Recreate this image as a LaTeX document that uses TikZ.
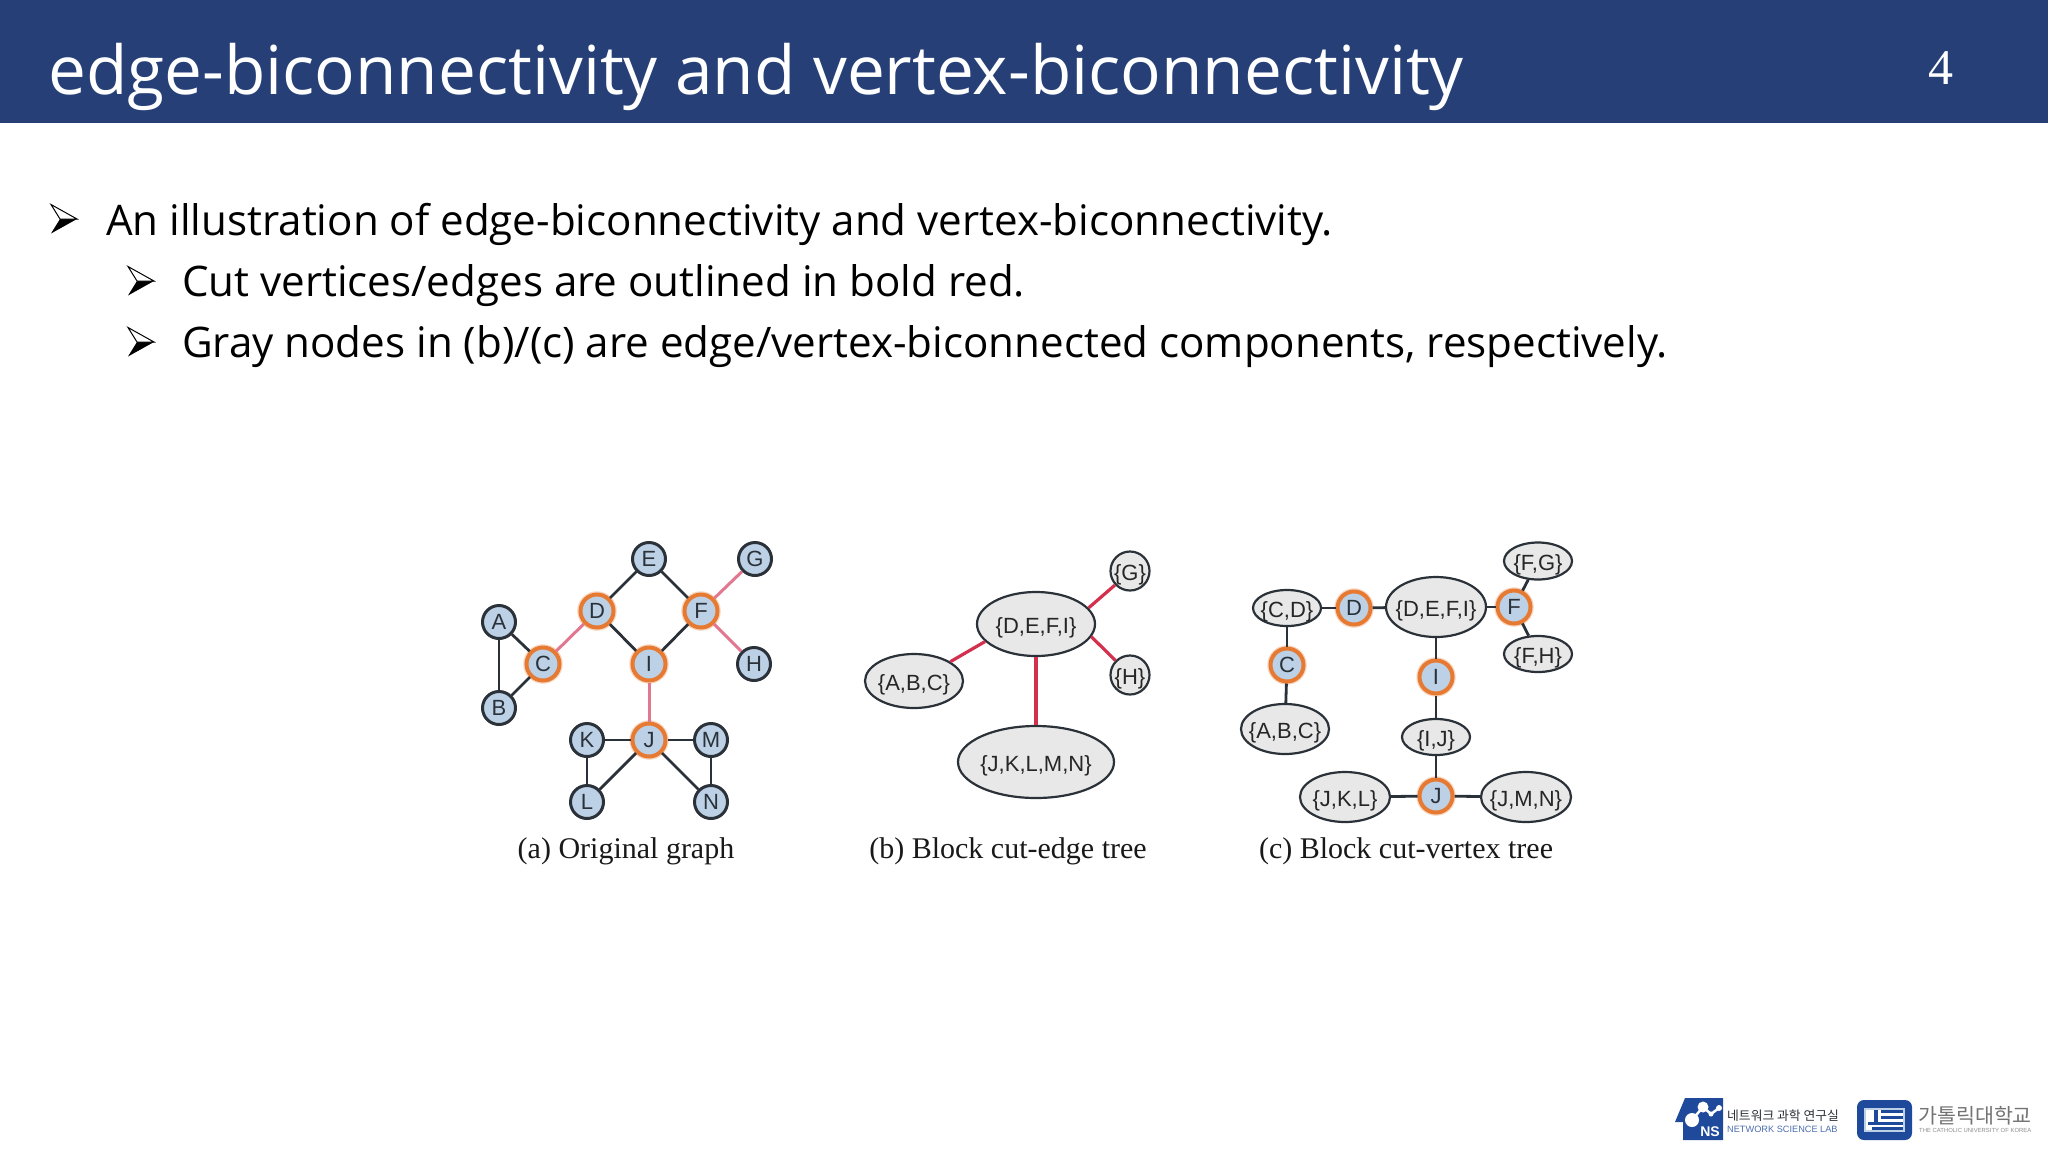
\documentclass[tikz,border=0pt]{standalone}
\usepackage{fontspec}
\usetikzlibrary{shapes.geometric}
\newfontfamily\slidefont{Open Sans}
\newfontfamily\figfont{Liberation Sans}
\newfontfamily\capfont{Liberation Serif}
\newfontfamily\krfont{Noto Sans CJK KR}
\definecolor{barblue}{HTML}{264077}
\definecolor{nodeblue}{HTML}{BCD0E6}
\definecolor{cutorange}{HTML}{E67A32}
\definecolor{cutpink}{HTML}{E27890}
\definecolor{cutred}{HTML}{D3304E}
\definecolor{blockgray}{HTML}{E8E8E8}
\definecolor{inkdark}{HTML}{2B3138}
\definecolor{logoblue}{HTML}{1F4A9C}
\newcommand{\blocktext}[1]{\makebox[0pt]{\smash{\raisebox{-9.5pt}{\{#1\}}}}}
\tikzset{
  headline/.style={anchor=base west,inner sep=0pt,white,font=\slidefont\fontsize{67.5}{67.5}\selectfont},
  bodyline/.style={anchor=base west,inner sep=0pt,black,font=\slidefont\fontsize{42.1}{42.1}\selectfont},
  caption/.style={anchor=base,inner sep=0pt,black!90,font=\capfont\fontsize{30}{30}\selectfont},
  vertex/.style={circle,draw=inkdark,line width=3pt,fill=nodeblue,minimum size=33pt,inner sep=0pt,text=inkdark,font=\figfont\fontsize{22}{22}\selectfont},
  cutvertex/.style={vertex,draw=cutorange,line width=4pt,preaction={draw=cutorange!30,line width=6.5pt}},
  block/.style={ellipse,draw=inkdark,line width=2.2pt,fill=blockgray,inner sep=0pt,text=black!85,font=\figfont\fontsize{22}{22}\selectfont},
  roundblock/.style={block,circle,minimum size=39pt},
  edge/.style={inkdark,line width=2.8pt},
  cutedge/.style={cutpink,line width=3pt},
  treecut/.style={cutred,line width=3.2pt},
  barrow/.pic={
    \fill[black] (0,14.5) -- (26,0) -- (9,0) -- cycle;
    \filldraw[fill=white,draw=black,line width=1pt] (0,-14.5) -- (26,0) -- (9,0) -- cycle;
  }
}
\begin{document}
\begin{tikzpicture}[x=1pt,y=-1pt]
  \useasboundingbox (0,0) rectangle (2048,1152);
  \fill[barblue] (0,0) rectangle (2048,123);
  \node[headline] (title) at (48,94) {edge-biconnectivity and vertex-biconnectivity};
  \node[anchor=base,inner sep=0pt,white,font=\capfont\fontsize{50}{50}\selectfont] (pagenum) at (1941,84) {4};

  \pic at (51,219) {barrow};
  \pic at (128,281) {barrow};
  \pic at (128,342) {barrow};
  \node[bodyline] (lineone) at (106,235) {An illustration of edge-biconnectivity and vertex-biconnectivity.};
  \node[bodyline] (linetwo) at (182,296) {Cut vertices/edges are outlined in bold red.};
  \node[bodyline] (linethree) at (182,357) {Gray nodes in (b)/(c) are edge/vertex-biconnected components, respectively.};

  \node[vertex] (aE) at (649,559) {E};
  \node[vertex] (aG) at (755,559) {G};
  \node[cutvertex] (aD) at (597,611) {D};
  \node[cutvertex] (aF) at (701,611) {F};
  \node[vertex] (aA) at (499,622) {A};
  \node[cutvertex] (aC) at (543,664) {C};
  \node[cutvertex] (aI) at (649,664) {I};
  \node[vertex] (aH) at (754,664) {H};
  \node[vertex] (aB) at (499,708) {B};
  \node[vertex] (aK) at (587,740) {K};
  \node[cutvertex] (aJ) at (649,740) {J};
  \node[vertex] (aM) at (711,740) {M};
  \node[vertex] (aL) at (587,802) {L};
  \node[vertex] (aN) at (711,802) {N};
  \draw[edge] (aA) -- (aB);
  \draw[edge] (aA) -- (aC);
  \draw[edge] (aB) -- (aC);
  \draw[edge] (aD) -- (aE);
  \draw[edge] (aE) -- (aF);
  \draw[edge] (aD) -- (aI);
  \draw[edge] (aF) -- (aI);
  \draw[edge] (aK) -- (aJ);
  \draw[edge] (aJ) -- (aM);
  \draw[edge] (aK) -- (aL);
  \draw[edge] (aL) -- (aJ);
  \draw[edge] (aJ) -- (aN);
  \draw[edge] (aM) -- (aN);
  \draw[cutedge] (aC) -- (aD);
  \draw[cutedge] (aF) -- (aG);
  \draw[cutedge] (aF) -- (aH);
  \draw[cutedge] (aI) -- (aJ);
  \node[caption] (capa) at (626,858) {(a) Original graph};

  \node[block,minimum width=118pt,minimum height=64pt] (bDEFI) at (1036,624) {\blocktext{D,E,F,I}};
  \node[block,minimum width=98pt,minimum height=54pt] (bABC) at (914,681) {\blocktext{A,B,C}};
  \node[roundblock] (bG) at (1130,571) {\blocktext{G}};
  \node[roundblock] (bH) at (1130,675) {\blocktext{H}};
  \node[block,minimum width=156pt,minimum height=72pt] (bJKLMN) at (1036,762) {\blocktext{J,K,L,M,N}};
  \draw[treecut] (bDEFI.199) -- (bABC.28);
  \draw[treecut] (bDEFI.17) -- (bG.223);
  \draw[treecut] (bDEFI.-13) -- (bH.135);
  \draw[treecut] (bDEFI) -- (bJKLMN);
  \node[caption] (capb) at (1008,858) {(b) Block cut-edge tree};

  \node[block,minimum width=68pt,minimum height=37pt] (cFG) at (1538,561) {\blocktext{F,G}};
  \node[block,minimum width=68pt,minimum height=36pt] (cCD) at (1287,608) {\blocktext{C,D}};
  \node[cutvertex] (cD) at (1354,608) {D};
  \node[block,minimum width=100pt,minimum height=60pt] (cDEFI) at (1436,607) {\blocktext{D,E,F,I}};
  \node[cutvertex] (cF) at (1514,607) {F};
  \node[block,minimum width=68pt,minimum height=36pt] (cFH) at (1538,654) {\blocktext{F,H}};
  \node[cutvertex] (cC) at (1287,665) {C};
  \node[cutvertex] (cI) at (1436,677) {I};
  \node[block,minimum width=88pt,minimum height=50pt] (cABC) at (1285,729) {\blocktext{A,B,C}};
  \node[block,minimum width=68pt,minimum height=36pt] (cIJ) at (1436,737) {\blocktext{I,J}};
  \node[block,minimum width=90pt,minimum height=50pt] (cJKL) at (1345,797) {\blocktext{J,K,L}};
  \node[cutvertex] (cJ) at (1436,796) {J};
  \node[block,minimum width=90pt,minimum height=50pt] (cJMN) at (1526,797) {\blocktext{J,M,N}};
  \draw[edge] (cCD) -- (cD);
  \draw[edge] (cD) -- (cDEFI);
  \draw[edge] (cDEFI) -- (cF);
  \draw[edge] (cF) -- (cFG);
  \draw[edge] (cF) -- (cFH);
  \draw[edge] (cCD) -- (cC);
  \draw[edge] (cC) -- (cABC);
  \draw[edge] (cDEFI) -- (cI);
  \draw[edge] (cI) -- (cIJ);
  \draw[edge] (cIJ) -- (cJ);
  \draw[edge] (cJKL) -- (cJ);
  \draw[edge] (cJ) -- (cJMN);
  \node[caption] (capc) at (1406,858) {(c) Block cut-vertex tree};

  \fill[logoblue] (1675,1122) -- (1685,1098) -- (1723,1098) -- (1723,1140) -- (1683,1140) -- (1683,1122) -- cycle;
  \draw[white,line width=2.5pt] (1692,1120) -- (1703,1107) -- (1711,1114) -- (1719,1108);
  \fill[white] (1692,1120) circle (7);
  \fill[white] (1703,1107) circle (5.5);
  \fill[white] (1711,1114) circle (2.5);
  \fill[white] (1719,1108) circle (3);
  \node[anchor=center,inner sep=0pt,white,font=\figfont\bfseries\fontsize{14}{14}\selectfont] (nsmark) at (1710,1132) {NS};
  \node[anchor=base west,inner sep=0pt,inkdark,font=\krfont\fontsize{12.8}{12.8}\selectfont] (labkr) at (1727,1120) {네트워크 과학 연구실};
  \node[anchor=base west,inner sep=0pt,logoblue!80,font=\figfont\fontsize{9.2}{9.2}\selectfont] (laben) at (1727,1132) {NETWORK SCIENCE LAB};
  \fill[rounded corners=7pt,logoblue] (1857,1100) rectangle (1912,1140);
  \fill[nodeblue] (1864,1108) rectangle (1905,1132);
  \fill[white] (1866,1110) rectangle (1903,1130);
  \fill[logoblue] (1874,1110) rectangle (1878,1124);
  \fill[logoblue] (1881,1110) rectangle (1903,1113);
  \fill[logoblue] (1881,1116) rectangle (1903,1119);
  \fill[logoblue] (1868,1122) rectangle (1903,1125);
  \fill[logoblue] (1872,1127) rectangle (1903,1130);
  \node[anchor=base west,inner sep=0pt,black!55,font=\krfont\fontsize{20.6}{20.6}\selectfont] (univkr) at (1918,1123) {가톨릭대학교};
  \node[anchor=base west,inner sep=0pt,black!45,font=\figfont\fontsize{5.9}{5.9}\selectfont] (univen) at (1919,1132) {THE CATHOLIC UNIVERSITY OF KOREA};
\end{tikzpicture}
\end{document}
